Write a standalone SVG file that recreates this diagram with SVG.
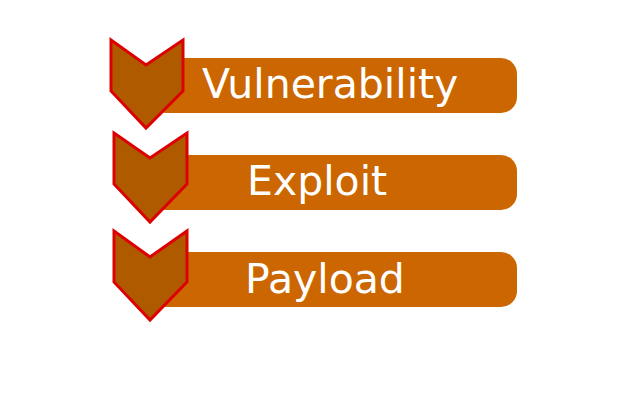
<svg xmlns="http://www.w3.org/2000/svg" width="640" height="400" viewBox="0 0 640 400">
<style>
.bar{fill:#CC6600;}
.chev{fill:#B05A00;stroke:#DD0000;stroke-width:3;stroke-linejoin:miter;}
.lbl{font-family:"DejaVu Sans",sans-serif;font-size:41px;fill:#FFFFFF;}
</style>
<rect width="640" height="400" fill="#FFFFFF"/>
<g id="node-vulnerability">
<rect class="bar" x="150" y="58" width="367" height="55" rx="16" ry="16"/>
<polygon class="chev" points="111,40 146,65 183,40 183,91 146,128 111,91"/>
<text class="lbl" x="202" y="98">Vulnerability</text>
</g>
<g id="node-exploit">
<rect class="bar" x="150" y="155" width="367" height="55" rx="16" ry="16"/>
<polygon class="chev" points="114,133 150,158 187,133 187,184 150,222 114,184"/>
<text class="lbl" x="247" y="195">Exploit</text>
</g>
<g id="node-payload">
<rect class="bar" x="150" y="252" width="367" height="55" rx="16" ry="16"/>
<polygon class="chev" points="114,231 150,257 187,231 187,282 150,320 114,282"/>
<text class="lbl" x="245" y="293">Payload</text>
</g>
<g id="connectors"></g>
</svg>
